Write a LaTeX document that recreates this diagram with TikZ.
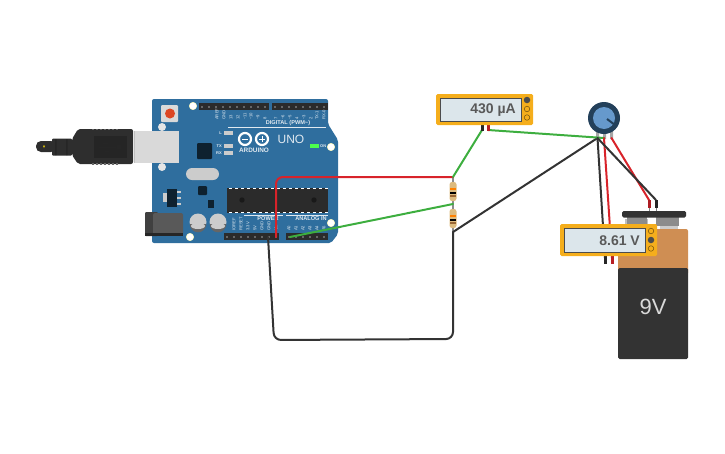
\documentclass[tikz,border=0pt]{standalone}
\usepackage{fontspec}
\setmainfont{Liberation Sans}
\definecolor{boardblue}{HTML}{2F6E9E}
\definecolor{pinblack}{HTML}{2B2B2B}
\definecolor{cablegray}{HTML}{2E2E2E}
\definecolor{meterorange}{HTML}{F5AE1C}
\definecolor{screenblue}{HTML}{DCE6EB}
\definecolor{battorange}{HTML}{CF8E53}
\definecolor{wiregreen}{HTML}{3DAE3F}
\definecolor{wirered}{HTML}{D8232A}
\definecolor{wireblack}{HTML}{333333}
\definecolor{restan}{HTML}{DDBB7E}
\definecolor{potdark}{HTML}{23405A}
\definecolor{potlight}{HTML}{6699CC}
\tikzset{
  wire/.style={line width=2pt, rounded corners=7pt, line cap=round},
  header/.style={fill=pinblack, draw=none},
  hole/.style={circle, fill=white, draw=yellow!30!white, line width=0.4pt, minimum size=7.5pt, inner sep=0pt},
  boardtext/.style={text=white!85!boardblue, font=\bfseries\fontsize{5.6}{6}\selectfont, inner sep=0pt},
  pinlabel/.style={boardtext, rotate=90, anchor=west, font=\fontsize{4.2}{5}\selectfont},
  meter/.style={fill=meterorange, rounded corners=1.5pt, draw=none},
  screen/.style={fill=screenblue, draw=black!70, line width=1pt},
  readout/.style={text=black!65, font=\bfseries\fontsize{14}{16}\selectfont, anchor=east, inner sep=0pt},
  knob/.style={circle, draw=black!55!meterorange, line width=0.5pt, minimum size=5.5pt, inner sep=0pt},
  knobon/.style={circle, fill=black!70, minimum size=6.5pt, inner sep=0pt},
  lead/.style={line width=1.4pt, draw=black!45},
}
\begin{document}
\begin{tikzpicture}[x=1pt, y=-1pt]
  \useasboundingbox (0,0) rectangle (725,453);
  % usb cable
  \fill[cablegray, rounded corners=5pt] (36,141) rectangle (56,152);
  \fill[cablegray, rounded corners=1pt] (52,138.5) rectangle (72,155.5);
  \fill[black!85] (55,139) rectangle (56.5,155) (66,139) rectangle (67.5,155);
  \fill[cablegray, rounded corners=2pt] (72,139) -- (78,129) -- (133,129) -- (133,164) -- (78,164) -- (72,155) -- cycle;
  \foreach \x in {92,96,...,116} {
    \fill[black!60] (\x,128.5) rectangle ++(2,1.2);
    \fill[black!60] (\x,163.3) rectangle ++(2,1.2);
  }
  \fill[cablegray!80!black] (94,136) rectangle (127,158);
  \fill[yellow!80!orange] (43,145.5) -- (45,145.5) -- (44,148) -- cycle;
  \draw[black!85, line width=0.8pt] (99,147) -- (116,147) (104,143) -- (108,143) (105,151) -- (109,151);
  \fill[black!85] (119,147) circle (2.5pt) (104,143) circle (1.5pt) (108,151) circle (1.5pt);
  % board
  \fill[boardblue, rounded corners=2pt] (152,99) -- (328,99) -- (328,124) -- (338,140) -- (338,234) -- (331,243) -- (152,243) -- cycle;
  \fill[white!90!black] (162,127) circle (4pt) (162,167) circle (4pt);
  \fill[white!85!black] (134,131) rectangle (179,163);
  \draw[white!75!black, line width=0.7pt] (134,131) -- (134,163);
  % reset button
  \fill[white!85!black, rounded corners=1pt] (161,105) rectangle (178,122);
  \fill[red!45!brown] (170,113.5) circle (5pt);
  % holes
  \node[hole] (holeA) at (193,106) {};
  \node[hole] (holeB) at (331,147) {};
  \node[hole] (holeC) at (331,223) {};
  \node[hole] (holeD) at (190,237) {};
  % headers
  \fill[header] (199,103) rectangle (269,110);
  \fill[header] (272,103) rectangle (328,110);
  \fill[header] (224,233) rectangle (279,240);
  \fill[header] (286,233) rectangle (328,240);
  \foreach \x in {201,208,...,267, 274,281,...,326} {
    \fill[black!60] (\x,105.5) rectangle ++(1.6,2);
  }
  \foreach \x in {226,233,...,277, 288,295,...,326} {
    \fill[black!60] (\x,235.5) rectangle ++(1.6,2);
  }
  % pin labels
  \foreach \x/\t in {217/AREF, 224/GND, 231/13, 238/12, 245/\textasciitilde 11, 251/\textasciitilde 10, 258/\textasciitilde 9, 265/8, 276/7, 283/\textasciitilde 6, 290/\textasciitilde 5, 297/4, 304/\textasciitilde 3, 311/2, 317/TX-1, 324/RX-0} {
    \node[pinlabel] at (\x,120) {\t};
  }
  \foreach \x/\t in {234/IOREF, 241/RESET, 248/3.3V, 255/5V, 262/GND, 269/GND, 276/Vin, 289/A0, 296/A1, 303/A2, 310/A3, 317/A4, 324/A5} {
    \node[pinlabel] at (\x,231) {\t};
  }
  \draw[white!85!boardblue, line width=0.4pt] (228,127) -- (326,127);
  \node[boardtext] (digital) at (288,123.5) {DIGITAL (PWM\textasciitilde)};
  \draw[white!85!boardblue, line width=0.4pt] (244,215) -- (283,215) (286,215) -- (328,215);
  \node[boardtext] (power) at (268,219) {POWER};
  \node[boardtext] (analog) at (311,219) {ANALOG IN};
  % logo
  \draw[white, line width=2.2pt] (245,139) circle (6pt) (262,139) circle (6pt);
  \draw[white, line width=0.9pt] (242,139) -- (248,139) (259,139) -- (265,139) (262,136) -- (262,142);
  \node[boardtext, font=\bfseries\fontsize{6.4}{7}\selectfont] (arduino) at (254,150.5) {ARDUINO};
  \node[text=white!85!boardblue, font=\fontsize{12}{14}\selectfont, inner sep=0pt] (uno) at (291,139) {UNO};
  % leds
  \fill[white!80!black] (224,131) rectangle (233,134.5);
  \fill[white!80!black] (224,144) rectangle (233,147.5);
  \fill[white!80!black] (224,151) rectangle (233,154.5);
  \node[boardtext, anchor=east, font=\bfseries\fontsize{4}{5}\selectfont] (ledL) at (222,133) {L};
  \node[boardtext, anchor=east, font=\bfseries\fontsize{4}{5}\selectfont] (ledT) at (222,146) {TX};
  \node[boardtext, anchor=east, font=\bfseries\fontsize{4}{5}\selectfont] (ledR) at (222,153) {RX};
  \fill[green!70!white] (310,144) rectangle (319,147.5);
  \node[boardtext, anchor=west, font=\bfseries\fontsize{4}{5}\selectfont] (ledO) at (320,146) {ON};
  % parts on the board
  \fill[black!70!boardblue, rounded corners=1pt] (197,143) rectangle (212,159);
  \fill[black!70!boardblue, rounded corners=1pt] (198,186) rectangle (207,195);
  \fill[black!70!boardblue] (208,200) rectangle (214,208);
  \fill[white!80!black, rounded corners=6pt] (186,168) rectangle (219,180);
  \fill[white!80!black] (163,193) rectangle (167,202);
  \fill[black!70!boardblue] (167,189) rectangle (177,207);
  \foreach \y in {192,198,204} { \fill[white!80!black] (177,\y-1) rectangle (181,\y+1); }
  \foreach \x in {198,218} {
    \fill[white!80!black] (\x,222) circle (8.5pt);
    \fill[black!60] (\x-8.3,224) arc[start angle=180, end angle=360, radius=8.3pt] -- cycle;
    \fill[white!80!black] (\x,226) ellipse (7pt and 3pt);
  }
  % power jack
  \fill[black!75, rounded corners=1pt] (145,212) rectangle (158,236);
  \fill[black!65, rounded corners=2pt] (153,213) rectangle (183,235);
  \fill[black!85] (145,233) rectangle (183,236);
  % atmega
  \fill[pinblack] (227,188) rectangle (328,213);
  \foreach \x in {229,235,...,325} {
    \fill[white] (\x,188.4) rectangle ++(3,1);
    \fill[white] (\x,211.6) rectangle ++(3,1);
  }
  \fill[black!90] (242,200) circle (2.7pt) (314,200) circle (2.7pt);
  % battery
  \fill[black!25] (625,219) rectangle (648,232);
  \fill[black!45] (627,217) rectangle (647,224);
  \fill[black!20] (660,224) rectangle (678,232);
  \fill[black!45] (656,217) rectangle (679,226);
  \fill[black!80, rounded corners=1.5pt] (622,211) rectangle (686,217.5);
  \fill[battorange, rounded corners=2pt] (618,229) rectangle (688,275);
  \fill[wireblack, rounded corners=1.5pt] (618,268) rectangle (688,359);
  \node[text=white!85!black, font=\fontsize{22}{24}\selectfont, inner sep=0pt] (batlabel) at (653,307) {9V};
  % resistors
  \coordinate (resTop) at (453,177);
  \coordinate (resMid) at (453,204);
  \coordinate (resEnd) at (453,232);
  \draw[lead] (resTop) -- (resEnd);
  \foreach \y in {182,209} {
    \fill[restan, rounded corners=2.5pt] (449.5,\y) rectangle (456.5,\y+19);
    \fill[orange] (450,\y+6) rectangle (456,\y+8);
    \fill[black] (450,\y+9.5) rectangle (456,\y+11.5);
    \fill[brown!80!black] (450,\y+13) rectangle (456,\y+14.5);
  }
  % potentiometer
  \fill[black!35] (596,131) rectangle (599,139) (603,131) rectangle (606,139) (610,131) rectangle (613,139);
  \node[circle, fill=potdark, minimum size=32pt, inner sep=0pt] (pot) at (604,118) {};
  \node[circle, fill=potlight, minimum size=22pt, inner sep=0pt] (potdial) at (604,118) {};
  \draw[potdark, line width=2pt] (607,119) -- (615,125);
  \coordinate (potA) at (597.5,138);
  \coordinate (potB) at (604,138);
  \coordinate (potC) at (611.5,138);
  % battery terminals and other wire ends
  \coordinate (batRed) at (649,200);
  \coordinate (batBlk) at (656,200);
  \coordinate (ardFive) at (276,237);
  \coordinate (ardGnd) at (268,237);
  \coordinate (ardAzero) at (290,237);
  % wires
  \draw[wire, wirered] (ardFive) -- (276,177) -- (resTop);
  \draw[wire, wiregreen] (ardAzero) -- (resMid);
  \draw[wire, wireblack] (ardGnd) -- (274,340) -- (453,339) -- (resEnd);
  \draw[wire, wireblack] (resEnd) -- (potA);
  \coordinate (amBlk) at (482,130);
  \coordinate (amRed) at (488,130);
  \coordinate (voBlk) at (605,258);
  \coordinate (voRed) at (612,258);
  \draw[wire, wiregreen] (resTop) -- (amBlk);
  \draw[wire, wiregreen] (amRed) -- (potB);
  \draw[wire, wireblack] (potA) -- (voBlk);
  \draw[wire, wirered] (potB) -- (voRed);
  \draw[wire, wirered] (potC) -- (batRed);
  \draw[wire, wireblack] (potA) -- (batBlk);
  % probes on the battery
  \fill[wirered!80!black] (647.5,200) rectangle (651,208);
  \fill[black!85] (654.5,200) rectangle (658,208);
  \draw[black!50, line width=0.8pt] (649.5,208) -- (649.5,211) (656.5,208) -- (656.5,211);
  % ammeter
  \fill[black!85] (480.5,125) rectangle (484,131);
  \fill[wirered!85!black] (486.5,125) rectangle (490,131);
  \fill[meter] (436,94) rectangle (533,125);
  \fill[screen] (440,98) rectangle (521,121);
  \node[readout] (amValue) at (516,110) {430 µA};
  \node[knobon] (amKnobA) at (527,100) {};
  \node[knob] (amKnobB) at (527,109) {};
  \node[knob] (amKnobC) at (527,117.5) {};
  % voltmeter
  \fill[black!85] (603.5,256) rectangle (607,264);
  \fill[wirered!85!black] (610.5,256) rectangle (614,264);
  \fill[meter] (560,224) rectangle (657,256);
  \fill[screen] (564,228) rectangle (645,252);
  \node[readout] (voValue) at (640,240.5) {8.61 V};
  \node[knob] (voKnobA) at (651,231) {};
  \node[knobon] (voKnobB) at (651,240) {};
  \node[knob] (voKnobC) at (651,248.5) {};
\end{tikzpicture}
\end{document}
